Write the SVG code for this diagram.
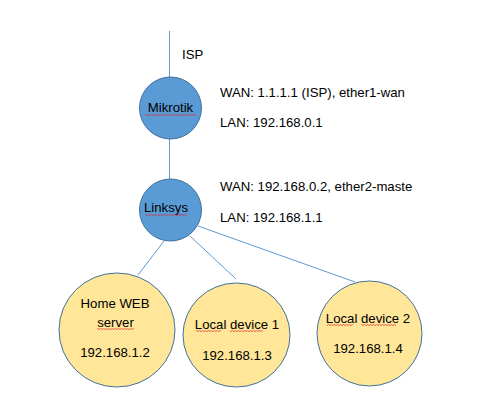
<svg xmlns="http://www.w3.org/2000/svg" width="479" height="409" viewBox="0 0 479 409">
  <style>
    text { font-family: "Liberation Sans", Arial, sans-serif; font-size: 13.2px; fill: #000; }
    .mid { text-anchor: middle; }
    .router { fill: #5B9BD5; stroke: #41719C; stroke-width: 1; }
    .host { fill: #FFE699; stroke: #41719C; stroke-width: 1; }
    .link { stroke: #5B9BD5; stroke-width: 1; fill: none; }
    .sq { fill: url(#squig); }
  </style>
  <defs>
    <pattern id="squig" patternUnits="userSpaceOnUse" width="3" height="2">
      <polyline points="0,1.6 1.5,0.4 3,1.6" fill="none" stroke="#E02020" stroke-width="0.7"/>
    </pattern>
  </defs>
  <rect width="479" height="409" fill="#fff"/>

  <g id="connectors">
    <line class="link" x1="169.5" y1="31" x2="169.5" y2="77"/>
    <line class="link" x1="169.5" y1="139" x2="169.5" y2="179"/>
    <line class="link" x1="164" y1="241" x2="138" y2="275"/>
    <line class="link" x1="190" y1="236" x2="236" y2="279"/>
    <line class="link" x1="198" y1="226" x2="355" y2="282"/>
  </g>

  <g id="isp-label">
    <text x="182" y="59">ISP</text>
  </g>

  <g id="mikrotik">
    <circle class="router" cx="170.5" cy="108" r="31"/>
    <text class="mid" x="170.5" y="112">Mikrotik</text>
    <rect class="sq" x="145" y="114" width="51" height="2"/>
  </g>
  <g id="mikrotik-info">
    <text x="220" y="97">WAN: 1.1.1.1 (ISP), ether1-wan</text>
    <text x="220" y="127">LAN: 192.168.0.1</text>
  </g>

  <g id="linksys">
    <circle class="router" cx="170.5" cy="210" r="31"/>
    <text class="mid" x="166" y="212">Linksys</text>
    <rect class="sq" x="145" y="214" width="42" height="2"/>
  </g>
  <g id="linksys-info">
    <text x="220" y="191">WAN: 192.168.0.2, ether2-maste</text>
    <text x="220" y="222">LAN: 192.168.1.1</text>
  </g>

  <g id="home-web-server">
    <ellipse class="host" cx="117" cy="330" rx="58" ry="57"/>
    <text class="mid" x="115" y="308">Home WEB</text>
    <text class="mid" x="115.5" y="327">server</text>
    <rect class="sq" x="97" y="328" width="37" height="2"/>
    <text class="mid" x="115" y="357">192.168.1.2</text>
  </g>

  <g id="local-device-1">
    <ellipse class="host" cx="236.5" cy="335" rx="53.5" ry="52"/>
    <text class="mid" x="237" y="329">Local device 1</text>
    <rect class="sq" x="196" y="330" width="25" height="2"/>
    <rect class="sq" x="230" y="330" width="33" height="2"/>
    <text class="mid" x="237" y="360">192.168.1.3</text>
  </g>

  <g id="local-device-2">
    <ellipse class="host" cx="369.5" cy="333.5" rx="52.5" ry="52.5"/>
    <text class="mid" x="368" y="323">Local device 2</text>
    <rect class="sq" x="327" y="324" width="26" height="2"/>
    <rect class="sq" x="361" y="324" width="35" height="2"/>
    <text class="mid" x="368" y="353">192.168.1.4</text>
  </g>
</svg>
